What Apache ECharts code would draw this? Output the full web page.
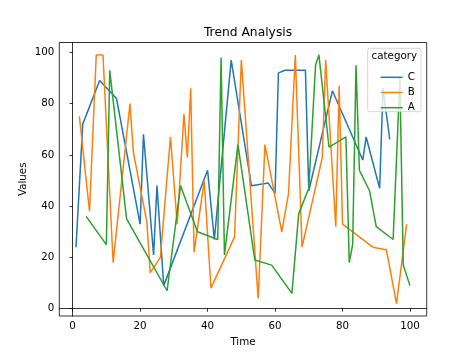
<!DOCTYPE html>
<html>
<head>
<meta charset="utf-8">
<script src="https://cdn.jsdelivr.net/npm/echarts@6/dist/echarts.min.js"></script>
<style>
  html, body { margin: 0; padding: 0; background: #fff; }
  #chart { width: 474px; height: 355px; }
</style>
</head>
<body>
<div id="chart"></div>
<script>
// ---- data ----
const seriesNames = ['C', 'B', 'A'];
const cTime   = [1, 3, 8, 13, 20, 21, 24, 25, 27, 40, 42, 47, 53, 58, 60, 61, 63, 69, 70, 77, 86, 87, 91, 92, 94];
const cValues = [24, 72, 89, 82, 33, 68, 21, 48, 9, 54, 27, 97, 48, 49, 45, 92, 93, 93, 46, 85, 58, 67, 47, 86, 66];
const bTime   = [2, 5, 7, 9, 12, 17, 18, 22, 23, 26, 29, 31, 33, 34, 35, 36, 39, 41, 48, 50, 55, 57, 62, 64, 66, 68, 74, 75, 78, 79, 80, 89, 93, 96, 99];
const bValues = [75, 38, 99, 99, 18, 80, 61, 34, 14, 20, 67, 33, 76, 59, 86, 22, 50, 8, 28, 97, 4, 64, 30, 45, 99, 24, 59, 97, 32, 87, 33, 24, 23, 2, 33];
const aTime   = [4, 10, 11, 16, 28, 32, 37, 43, 44, 45, 49, 54, 59, 65, 67, 70, 72, 73, 76, 81, 82, 83, 84, 85, 88, 90, 95, 97, 98, 100];
const aValues = [36, 25, 93, 35, 7, 48, 30, 27, 98, 21, 64, 19, 17, 6, 37, 47, 95, 99, 63, 67, 18, 25, 95, 54, 46, 32, 27, 90, 17, 9];
const xTicks = [0, 20, 40, 60, 80, 100];
const yTicks = [0, 20, 40, 60, 80, 100];
const colors = ['#1f77b4', '#ff7f0e', '#2ca02c'];

function pairs(xs, ys) { return xs.map((x, i) => [x, ys[i]]); }
const seriesData = [pairs(cTime, cValues), pairs(bTime, bValues), pairs(aTime, aValues)];

const FONT = 'DejaVu Sans';
const chart = echarts.init(document.getElementById('chart'), null, { renderer: 'canvas' });

chart.setOption({
  animation: false,
  backgroundColor: '#fff',
  textStyle: { fontFamily: FONT },
  title: {
    text: 'Trend Analysis',
    left: 243, top: 22, textAlign: 'center',
    textStyle: { fontFamily: FONT, fontSize: 12.3, fontWeight: 'normal', color: '#000' }
  },
  grid: {
    left: 59.3, right: 47.3, top: 42.5, bottom: 39,
    show: true, borderColor: '#000', borderWidth: 0.8, backgroundColor: 'transparent'
  },
  xAxis: {
    type: 'value', min: -3.95, max: 104.95,
    name: 'Time', nameLocation: 'middle', nameGap: 21, nameMoveOverlap: false,
    nameTextStyle: { fontFamily: FONT, fontSize: 10.3, color: '#000' },
    axisLine: { show: true, lineStyle: { color: '#000', width: 0.8 } },
    axisTick: { show: true, customValues: xTicks, length: 3, lineStyle: { color: '#000', width: 0.8 } },
    axisLabel: { customValues: xTicks, margin: 5, fontFamily: FONT, fontSize: 10.3, color: '#000' },
    splitLine: { show: false }
  },
  yAxis: {
    type: 'value', min: -2.85, max: 103.85,
    name: 'Values', nameLocation: 'middle', nameGap: 31, nameRotate: 90, nameMoveOverlap: false,
    nameTextStyle: { fontFamily: FONT, fontSize: 10.3, color: '#000' },
    axisLine: { show: true, lineStyle: { color: '#000', width: 0.8 } },
    axisTick: { show: true, customValues: yTicks, length: 3, lineStyle: { color: '#000', width: 0.8 } },
    axisLabel: { customValues: yTicks, margin: 5, fontFamily: FONT, fontSize: 10.3, color: '#000' },
    splitLine: { show: false }
  },
  legend: {
    data: seriesNames,
    orient: 'vertical',
    left: 375.7, top: 64.8,
    icon: 'rect', itemWidth: 22, itemHeight: 1.5, itemGap: 0.2,
    textStyle: { fontFamily: FONT, fontSize: 10.3, color: '#000', lineHeight: 15 },
    z: 20
  },
  graphic: [
    {
      type: 'rect', z: 10,
      shape: { x: 367.7, y: 48.3, width: 53.3, height: 63.4, r: 2 },
      style: { fill: 'rgba(255,255,255,0.8)', stroke: '#cccccc', lineWidth: 0.8 }
    },
    {
      type: 'text', z: 21,
      x: 394.3, y: 56.7,
      style: { text: 'category', fontFamily: FONT, fontSize: 10.3, fill: '#000', align: 'center', verticalAlign: 'middle' }
    }
  ],
  series: seriesNames.map((name, i) => ({
    name: name,
    type: 'line',
    data: seriesData[i],
    showSymbol: false,
    symbol: 'none',
    color: colors[i],
    lineStyle: { width: 1.5, color: colors[i] },
    z: 2 + i
  }))
});
</script>
</body>
</html>
